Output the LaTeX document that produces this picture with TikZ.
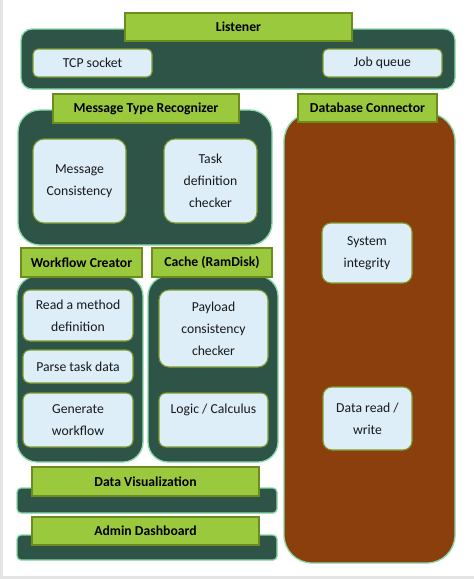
\documentclass[tikz,border=0pt]{standalone}
\usepackage{fontspec}
\setmainfont{Carlito}
\definecolor{dkgreen}{HTML}{2E5347}
\definecolor{edgegreen}{HTML}{86D9A8}
\definecolor{lblgreen}{HTML}{9BC93E}
\definecolor{lblborder}{HTML}{6E8B1E}
\definecolor{ltblue}{HTML}{DDEEF9}
\definecolor{itemborder}{HTML}{7F9C2A}
\definecolor{dbbrown}{HTML}{8B3F0C}
\definecolor{framegray}{HTML}{E4E4E4}
\tikzset{
  container/.style={rectangle, inner sep=0pt, fill=dkgreen, draw=edgegreen, line width=1.3pt},
  lbl/.style={rectangle, inner sep=0pt, fill=lblgreen, draw=lblborder, line width=1.1pt,
              font=\fontsize{13.7}{16}\selectfont\bfseries, text=black},
  item/.style={rectangle, inner sep=0pt, fill=ltblue, draw=itemborder, line width=1.1pt,
               rounded corners=7pt, align=center,
               font=\fontsize{13.7}{22}\selectfont, text=black!90},
}
\begin{document}
\begin{tikzpicture}[x=1pt,y=-1pt]
\useasboundingbox (0,0) rectangle (474,579);
\fill[white] (0,0) rectangle (474,579);
\fill[framegray] (0,0) rectangle (2.5,579);
\fill[framegray] (0,575.5) rectangle (474,579);

% containers
\node[container, rounded corners=11pt, minimum width=434pt, minimum height=60pt] (listenerC) at (238,59) {};
\node[container, rounded corners=22pt, minimum width=254pt, minimum height=135pt] (mtrC) at (145,177.5) {};
\node[container, fill=dbbrown, rounded corners=28pt, minimum width=171pt, minimum height=450pt] (dbC) at (369.5,338) {};
\node[container, rounded corners=20pt, minimum width=126pt, minimum height=186pt] (wcC) at (80,369) {};
\node[container, rounded corners=20pt, minimum width=130pt, minimum height=186pt] (cacheC) at (213,369) {};
\node[container, rounded corners=4pt, minimum width=260pt, minimum height=25pt] (dvC) at (147,500.5) {};
\node[container, rounded corners=4pt, minimum width=260pt, minimum height=25pt] (adC) at (147,547.5) {};

% labels
\node[lbl, minimum width=227pt, minimum height=28pt] (listenerL) at (238.5,27) {Listener};
\node[lbl, minimum width=186pt, minimum height=29pt] (mtrL) at (146,108.5) {Message Type Recognizer};
\node[lbl, minimum width=139pt, minimum height=28pt] (dbL) at (367.5,108) {Database Connector};
\node[lbl, minimum width=121pt, minimum height=29pt] (wcL) at (81.5,262.5) {Workflow Creator};
\node[lbl, minimum width=120pt, minimum height=29pt] (cacheL) at (212,262.5) {Cache (RamDisk)};
\node[lbl, minimum width=227pt, minimum height=29pt] (dvL) at (145.5,481.5) {Data Visualization};
\node[lbl, minimum width=227pt, minimum height=28pt] (adL) at (145.5,531) {Admin Dashboard};

% items
\node[item, rounded corners=5pt, minimum width=119pt, minimum height=28pt] (tcp) at (92.5,63) {TCP socket};
\node[item, rounded corners=5pt, minimum width=119pt, minimum height=28pt] (jobq) at (382.5,63) {Job queue};
\node[item, rounded corners=11pt, minimum width=93pt, minimum height=84pt] (msgc) at (79.5,181) {Message\\Consistency};
\node[item, rounded corners=11pt, minimum width=93pt, minimum height=84pt] (taskd) at (210.5,181) {Task\\definition\\checker};
\node[item, rounded corners=9pt, minimum width=90pt, minimum height=60pt] (sysint) at (367,253) {System\\integrity};
\node[item, rounded corners=9pt, minimum width=89pt, minimum height=63pt] (drw) at (367.5,418.5) {Data read /\\write};
\node[item, minimum width=110pt, minimum height=51pt] (readm) at (78,315.5) {Read a method\\definition};
\node[item, minimum width=110pt, minimum height=33pt] (parse) at (78,366.5) {Parse task data};
\node[item, minimum width=110pt, minimum height=54pt] (gen) at (78,420) {Generate\\workflow};
\node[item, rounded corners=10pt, minimum width=109pt, minimum height=77pt] (payload) at (213.5,328.5) {Payload\\consistency\\checker};
\node[item, minimum width=109pt, minimum height=54pt] (logic) at (213.5,420) {Logic / Calculus\\\mbox{}};
\end{tikzpicture}
\end{document}
